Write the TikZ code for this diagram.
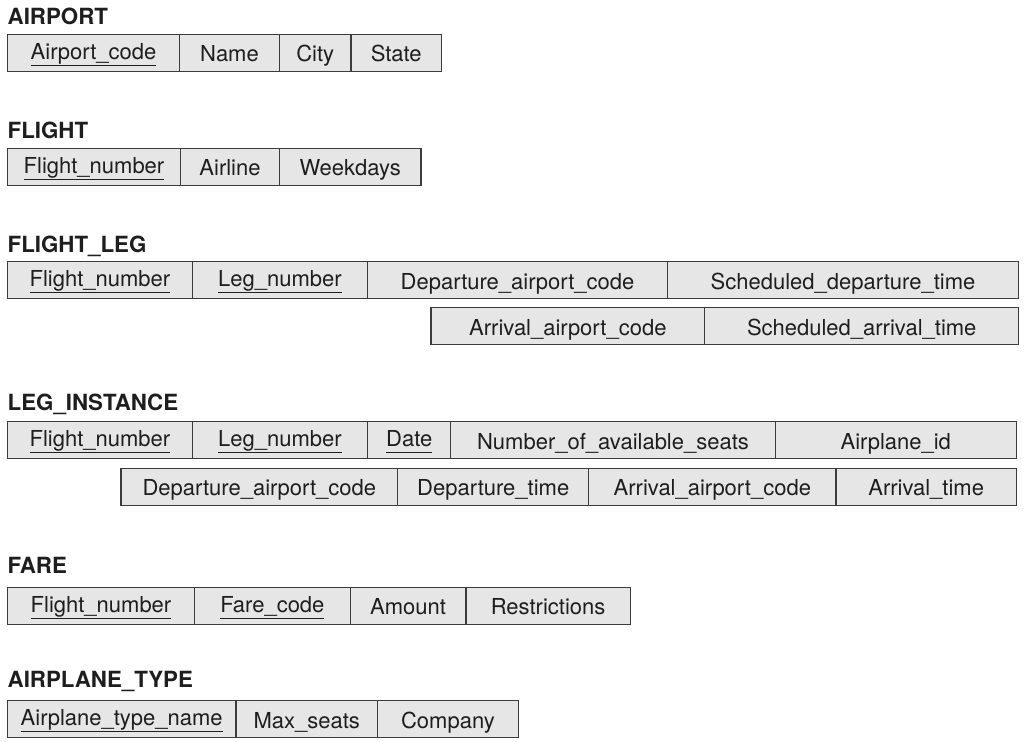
\documentclass[tikz,border=0pt]{standalone}
\usepackage{fontspec}
\setmainfont{TeX Gyre Heros}
\usepackage{xcolor}
\usepackage{tikz}
\usetikzlibrary{positioning}
\definecolor{cellfill}{HTML}{E6E6E6}
\definecolor{cellline}{HTML}{3C3C3C}
\definecolor{inkgray}{HTML}{1E1E1E}
% primary key: text raised a little, rule drawn under it
\newcommand{\pkey}[1]{\raisebox{2.5pt}{\setbox0=\hbox{#1}\rlap{\rule[-6.6pt]{\wd0}{1.2pt}}\box0}}
\tikzset{
    relcell/.style={
        draw=cellline,
        fill=cellfill,
        line width=1.4pt,
        outer sep=0pt,
        inner xsep=4pt,
        inner ysep=0pt,
        text height=18pt,
        text depth=0pt,
        minimum height=37pt,
        font=\fontsize{22}{26}\selectfont,
        text=inkgray
    },
    firstcell/.style={relcell, anchor=north west},
    reltitle/.style={font=\bfseries\fontsize{22.3}{26}\selectfont, inner sep=0pt, anchor=base west, text=inkgray}
}

\begin{document}
\begin{tikzpicture}[x=1pt, y=-1pt]
    \useasboundingbox (0,0) rectangle (1024,741);

    % AIRPORT
    \node[reltitle] (tairport) at (7.5,25) {AIRPORT};
    \node[firstcell, minimum width=172pt] (apcode) at (7.5,34.5) {\pkey{Airport\_code}};
    \node[relcell, minimum width=100pt, right=0pt of apcode] (apname) {Name};
    \node[relcell, minimum width=71.5pt, right=0pt of apname] (apcity) {City};
    \node[relcell, minimum width=90.5pt, right=0pt of apcity] (apstate) {State};

    % FLIGHT
    \node[reltitle] (tflight) at (7.5,138) {FLIGHT};
    \node[firstcell, minimum width=173pt] (flnum) at (7.5,148.3) {\pkey{Flight\_number}};
    \node[relcell, minimum width=99pt, right=0pt of flnum] (flairline) {Airline};
    \node[relcell, minimum width=141.4pt, right=0pt of flairline] (flweek) {Weekdays};

    % FLIGHT_LEG
    \node[reltitle] (tleg) at (7.5,252.7) {FLIGHT\_LEG};
    \node[firstcell, minimum width=184.8pt] (lgnum) at (7.5,261.7) {\pkey{Flight\_number}};
    \node[relcell, minimum width=175.4pt, right=0pt of lgnum] (lgleg) {\pkey{Leg\_number}};
    \node[relcell, minimum width=299.6pt, right=0pt of lgleg] (lgdep) {Departure\_airport\_code};
    \node[relcell, minimum width=351.4pt, right=0pt of lgdep] (lgdeptime) {Scheduled\_departure\_time};
    \node[firstcell, minimum width=273.7pt] (lgarr) at (431,307.7) {Arrival\_airport\_code};
    \node[relcell, minimum width=314pt, right=0pt of lgarr] (lgarrtime) {Scheduled\_arrival\_time};

    % LEG_INSTANCE
    \node[reltitle] (tinst) at (7.5,410) {LEG\_INSTANCE};
    \node[firstcell, minimum width=184.8pt] (innum) at (7.5,421.7) {\pkey{Flight\_number}};
    \node[relcell, minimum width=175.4pt, right=0pt of innum] (inleg) {\pkey{Leg\_number}};
    \node[relcell, minimum width=83pt, right=0pt of inleg] (indate) {\pkey{Date}};
    \node[relcell, minimum width=324.6pt, right=0pt of indate] (inseats) {Number\_of\_available\_seats};
    \node[relcell, minimum width=241pt, right=0pt of inseats] (inplane) {Airplane\_id};
    \node[firstcell, minimum width=276.7pt] (indep) at (121,468.3) {Departure\_airport\_code};
    \node[relcell, minimum width=191pt, right=0pt of indep] (indeptime) {Departure\_time};
    \node[relcell, minimum width=247.3pt, right=0pt of indeptime] (inarr) {Arrival\_airport\_code};
    \node[relcell, minimum width=180.3pt, right=0pt of inarr] (inarrtime) {Arrival\_time};

    % FARE
    \node[reltitle] (tfare) at (7.5,573) {FARE};
    \node[firstcell, minimum width=187pt] (fanum) at (7.5,587.3) {\pkey{Flight\_number}};
    \node[relcell, minimum width=155.7pt, right=0pt of fanum] (facode) {\pkey{Fare\_code}};
    \node[relcell, minimum width=115.7pt, right=0pt of facode] (faamount) {Amount};
    \node[relcell, minimum width=164.3pt, right=0pt of faamount] (farestr) {Restrictions};

    % AIRPLANE_TYPE
    \node[reltitle] (ttype) at (7.5,687.7) {AIRPLANE\_TYPE};
    \node[firstcell, minimum width=228.4pt] (tyname) at (7.5,700.7) {\pkey{Airplane\_type\_name}};
    \node[relcell, minimum width=141.6pt, right=0pt of tyname] (tyseats) {Max\_seats};
    \node[relcell, minimum width=141pt, right=0pt of tyseats] (tycomp) {Company};
\end{tikzpicture}
\end{document}
